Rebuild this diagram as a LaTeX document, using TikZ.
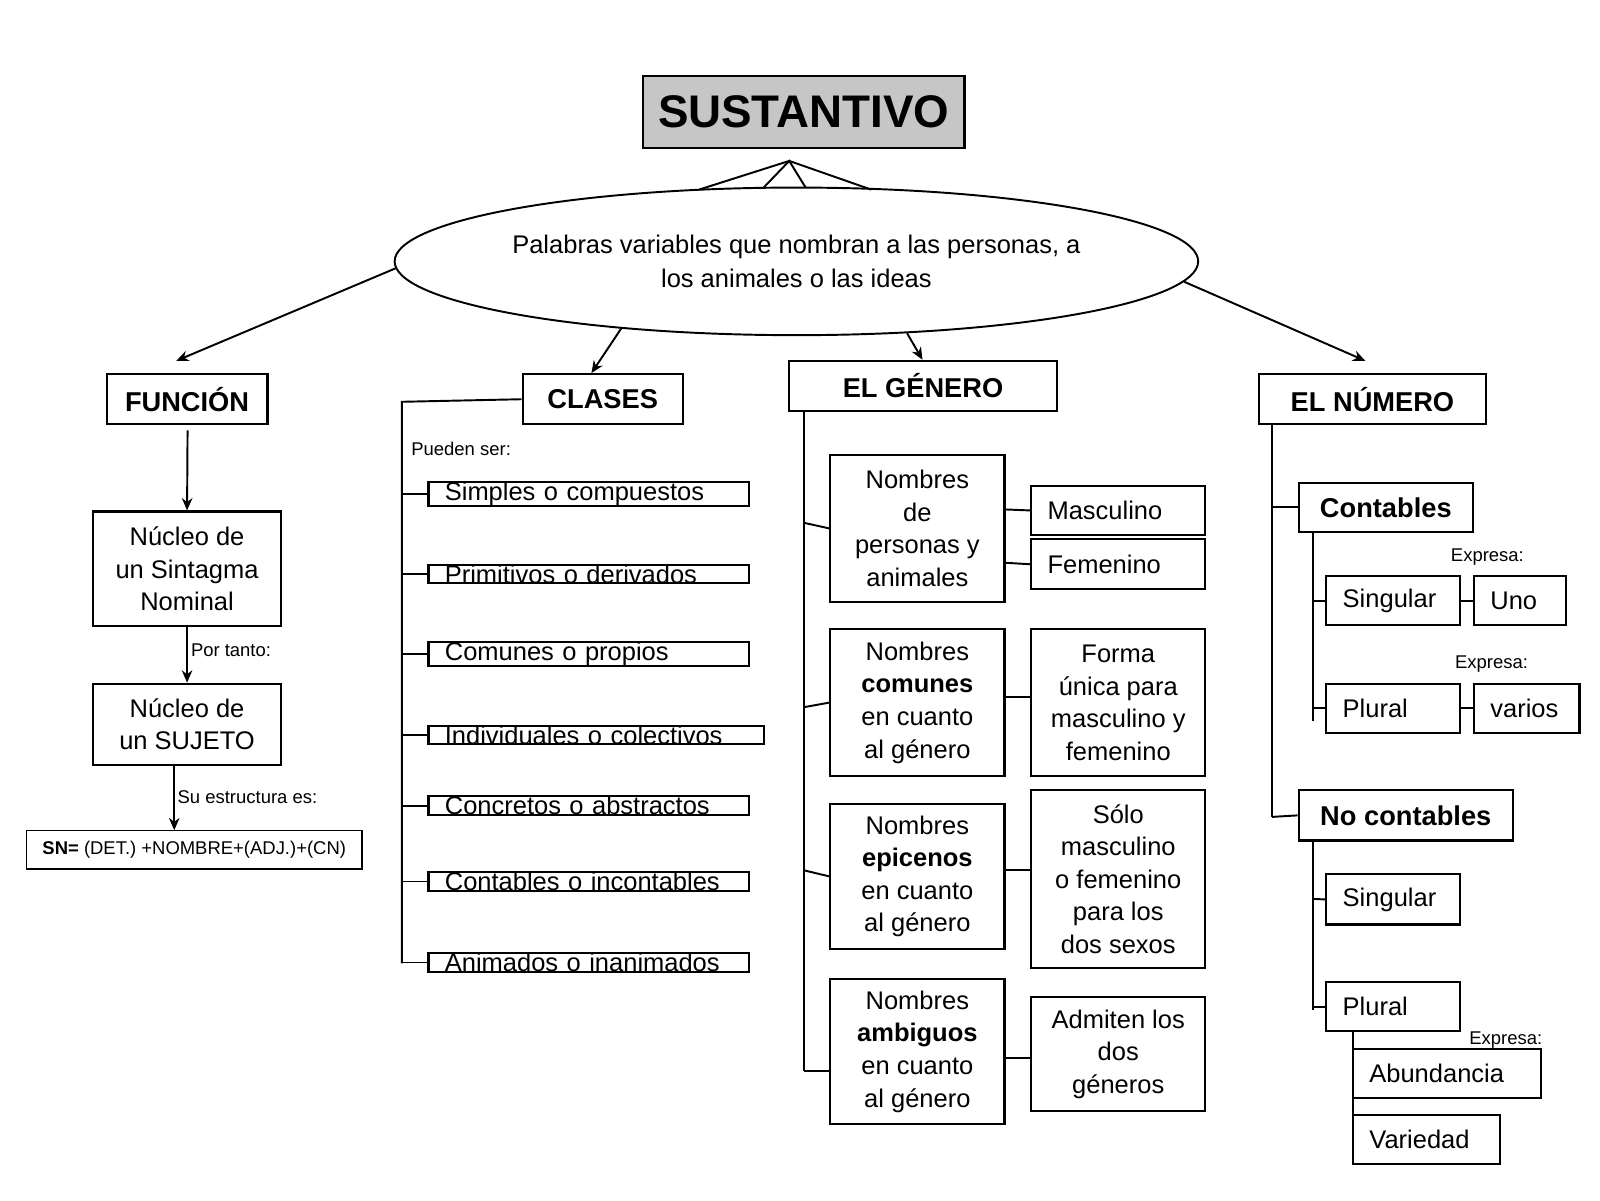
\documentclass[tikz,border=0pt]{standalone}
\usepackage{fontspec}
\setmainfont{Liberation Sans}
\usetikzlibrary{shapes.geometric,arrows.meta}
\newcommand\uu{0.0205cm}
\tikzset{
 box/.style={draw,line width=1.2pt,inner sep=0pt,align=center,font=\fontsize{14.5}{18.5}\selectfont},
 hdr/.style={box,font=\fontsize{15.5}{18}\selectfont\bfseries},
 lbl/.style={font=\fontsize{10.5}{12}\selectfont,inner sep=0pt},
 ln/.style={line width=1.1pt},
 arr/.style={line width=1.1pt,-{Stealth[length=7pt,width=6pt]}}
}
\newcommand\bx[7][box]{\node[#1,minimum width={(#5-#3)*\uu},minimum height={(#6-#4)*\uu}] (#2) at ({(#3+#5)/2},{(#4+#6)/2}) {#7};}
\newcommand\bxl[6]{\node[box,inner xsep=16*\uu,text width={(#4-#2-32)*\uu},align=left,minimum height={(#5-#3)*\uu}] (#1) at ({(#2+#4)/2},{(#3+#5)/2}) {#6};}
\begin{document}
\begin{tikzpicture}[x=0.0205cm,y=-0.0205cm]
\useasboundingbox (0,0) rectangle (1561,1171);
% title
\bx[hdr]{tit}{627}{74}{941}{144}{\fontsize{26}{30}\selectfont SUSTANTIVO}
\path[fill=gray!45] (tit.south west) rectangle (tit.north east);
\bx[hdr]{tit}{627}{74}{941}{144}{\fontsize{26}{30}\selectfont SUSTANTIVO}
\node[draw,ellipse,line width=1.1pt,minimum width=666*\uu,minimum height=144*\uu,align=center,inner sep=0pt,font=\fontsize{14.5}{19}\selectfont] (ell) at (777,255) {Palabras variables que nombran a las personas, a\\los animales o las ideas};
\coordinate (apex) at (770,157);
\draw[ln] (682,185) -- (apex) -- (850,185);
\draw[ln] (745,183) -- (apex) -- (786,183);
% headers
\bx[hdr]{fun}{104}{365}{261}{414}{FUNCIÓN}
\bx[hdr]{cla}{510}{365}{666}{414}{CLASES}
\bx[hdr]{gen}{770}{352}{1031}{401}{EL GÉNERO}
\bx[hdr]{num}{1228}{365}{1450}{414}{EL NÚMERO}
\coordinate (t1) at (172,352);
\coordinate (t2) at (577,364);
\coordinate (t3) at (900,351);
\coordinate (t4) at (1332,352);
\draw[arr] (ell.181.5) -- (t1);
\draw[arr] (ell.201.7) -- (t2);
\draw[arr] (ell.327.5) -- (t3);
\draw[arr] (ell.357) -- (t4);
% funcion
\bx{nsn}{91}{499}{274}{611}{Núcleo de\\un Sintagma\\Nominal}
\bx{nsu}{91}{667}{274}{746}{Núcleo de\\un SUJETO}
\bx[box,line width=0.8pt]{sn}{26}{810}{353}{848}{\fontsize{10.5}{12}\selectfont\textbf{SN=} (DET.) +NOMBRE+(ADJ.)+(CN)}
\draw[arr] (183,420) -- (nsn.north);
\draw[arr] (nsn.south) -- (nsu.north);
\node[lbl,anchor=west] (pt) at (186,634) {Por tanto:};
\draw[arr] (170,746) -- (170,810);
\node[lbl,anchor=west] (se) at (173,778) {Su estructura es:};
% clases
\draw[ln] (cla.west) -- (392,392) -- (392,940);
\node[lbl,anchor=west] (ps) at (401,438) {Pueden ser:};
\foreach \n/\t/\yc/\xr in {c1/Simples o compuestos/482/731,c2/Primitivos o derivados/560/731,c3/Comunes o propios/638/731,c4/Individuales o colectivos/717/745,c5/Concretos o abstractos/786/731,c6/Contables o incontables/860/731,c7/Animados o inanimados/939/731}{
 \bxl{\n}{418}{\yc-24.5}{\xr}{\yc+24.5}{\t}
 \draw[ln] (392,\yc) -- (\n.west);
}
% genero
\draw[ln] (784,401) -- (784,1045);
\bx{g1}{810}{444}{980}{587}{Nombres\\de\\personas y\\animales}
\bx{g2}{810}{614}{980}{757}{Nombres\\\textbf{comunes}\\en cuanto\\al género}
\bx{g3}{810}{784}{980}{926}{Nombres\\\textbf{epicenos}\\en cuanto\\al género}
\bx{g4}{810}{955}{980}{1097}{Nombres\\\textbf{ambiguos}\\en cuanto\\al género}
\bxl{r1}{1006}{474}{1176}{522}{Masculino}
\bxl{r2}{1006}{526}{1176}{575}{Femenino}
\bx{r3}{1006}{614}{1176}{757}{Forma\\única para\\masculino y\\femenino}
\bx{r4}{1006}{771}{1176}{944}{Sólo\\masculino\\o femenino\\para los\\dos sexos}
\bx{r5}{1006}{973}{1176}{1084}{Admiten los\\dos\\géneros}
\draw[ln] (784,510) -- (g1.west);
\draw[ln] (784,690) -- (g2.west);
\draw[ln] (784,849) -- (g3.west);
\draw[ln] (784,1045) -- (810,1045);
\draw[ln] (980,497) -- (r1.west);
\draw[ln] (980,549) -- (r2.west);
\draw[ln] (980,680) -- (1006,680);
\draw[ln] (980,849) -- (1006,849);
\draw[ln] (980,1032) -- (1006,1032);
% numero
\draw[ln] (1241,414) -- (1241,797);
\bx[hdr]{nc}{1267}{471}{1437}{519}{Contables}
\bx[hdr]{nn}{1267}{771}{1476}{820}{No contables}
\draw[ln] (1241,495) -- (nc.west);
\draw[ln] (1241,797) -- (nn.west);
\draw[ln] (1281,519) -- (1281,703);
\bxl{s1}{1294}{562}{1424}{610}{Singular}
\bxl{p1}{1294}{667}{1424}{715}{Plural}
\bxl{uno}{1438}{562}{1528}{610}{Uno}
\bxl{var}{1438}{667}{1541}{715}{varios}
\draw[ln] (1281,586) -- (s1.west);
\draw[ln] (1281,691) -- (p1.west);
\draw[ln] (s1.east) -- (uno.west);
\draw[ln] (p1.east) -- (var.west);
\node[lbl,anchor=east] (e1) at (1487,543) {Expresa:};
\node[lbl,anchor=east] (e2) at (1491,648) {Expresa:};
\draw[ln] (1281,820) -- (1281,985);
\bxl{s2}{1294}{853}{1424}{902}{Singular}
\bxl{p2}{1294}{958}{1424}{1006}{Plural}
\draw[ln] (1281,877) -- (s2.west);
\draw[ln] (1281,982) -- (p2.west);
\bxl{ab}{1320}{1023}{1503}{1071}{Abundancia}
\bxl{vr}{1320}{1088}{1463}{1136}{Variedad}
\draw[ln] (1320,1006) -- (1320,1088);
\node[lbl,anchor=south east] (e3) at (1505,1023) {Expresa:};
\end{tikzpicture}
\end{document}
